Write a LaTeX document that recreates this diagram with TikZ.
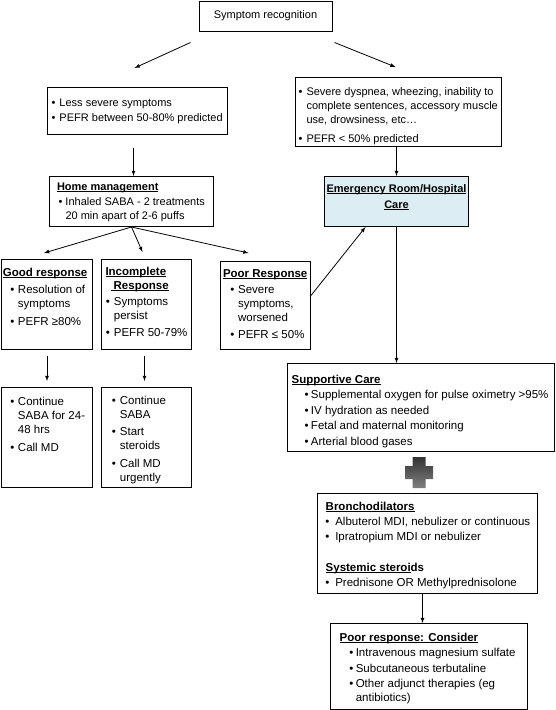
\documentclass[tikz,border=0pt]{standalone}
\usepackage{fontspec}
\setmainfont{Liberation Sans}
\usetikzlibrary{arrows}
\definecolor{erblue}{HTML}{DCEEF4}
\newlength{\tind}\newlength{\bind}\newlength{\bwid}\newlength{\bgap}
\newcommand{\fsA}{\fontsize{11}{14}\selectfont}
\newcommand{\fsB}{\fontsize{11.5}{14}\selectfont}
\newcommand{\bset}[4]{\setlength{\tind}{#1pt}\setlength{\bind}{#2pt}\setlength{\bwid}{#3pt}\setlength{\bgap}{#4pt}}
\newcommand{\ulin}[1]{\setbox0\hbox{#1}\rlap{\rule[-2pt]{\wd0}{0.8pt}}\box0}
\newcommand{\ttl}[2][0pt]{\par\noindent\strut\hspace*{\dimexpr\tind+#1\relax}\ulin{\textbf{#2}}\par}
\newcommand{\itm}[1]{\par\vspace{\bgap}\noindent\hangindent=\dimexpr\bind+\bwid\relax\hangafter=1\hspace*{\bind}\makebox[\bwid][l]{\textbullet}\strut#1\par}
\newcommand{\boxtxt}[4]{\begin{minipage}[t][#2pt][t]{#1pt}\vspace*{#3pt}#4\end{minipage}}

\begin{document}
\begin{tikzpicture}[x=1pt, y=-1pt, >=latex,
    tbox/.style={draw, line width=1pt, anchor=north west, inner sep=0pt, font=\fsA},
    lbox/.style={tbox, font=\fsB},
    hbox/.style={draw, line width=1pt, minimum width=133pt, minimum height=30pt, inner sep=0pt, font=\fsA},
    arr/.style={->, line width=0.8pt}]
    \useasboundingbox (0,0) rectangle (555,710);
    \node[hbox] (Sym) at (265.5,16) {Symptom recognition};
    \node[tbox] (Less) at (47,87) {\boxtxt{180}{47}{7.7}{\bset{0}{4}{8}{1}%
        \itm{Less severe symptoms}\itm{PEFR between 50-80\% predicted}}};
    \node[tbox] (Sev) at (295,77) {\boxtxt{206}{69}{2.7}{\bset{0}{3}{8}{5}%
        \itm{Severe dyspnea, wheezing, inability to\newline complete sentences, accessory muscle\newline use, drowsiness, etc…}%
        \itm{PEFR < 50\% predicted}}};
    \node[tbox] (Home) at (49,176) {\boxtxt{164}{50}{3.7}{\bset{7.5}{9}{7}{1}%
        \ttl{Home management}\itm{Inhaled SABA - 2 treatments\newline 20 min apart of 2-6 puffs}}};
    \node[tbox, fill=erblue] (ER) at (324,176) {\boxtxt{144}{50}{5.7}{\centering
        \strut\ulin{\textbf{Emergency Room/Hospital}}\\[2pt]\strut\ulin{\textbf{Care}}\par}};
    \node[lbox] (Good) at (1,259) {\boxtxt{91}{90}{6.7}{\bset{1.5}{9}{7.5}{3.5}%
        \ttl{Good response}\itm{Resolution of\newline symptoms}\itm{PEFR ≥80\%}}};
    \node[lbox] (Inc) at (101,259) {\boxtxt{90}{90}{5.7}{\bset{4}{4.4}{8}{2.5}%
        \ttl{Incomplete}\ttl[5pt]{\ Response}\itm{Symptoms\newline persist}\itm{PEFR 50-79\%}}};
    \node[lbox] (Poor) at (220,261) {\boxtxt{90}{88}{5.7}{\bset{2.5}{9.8}{7.8}{2.5}%
        \ttl{Poor Response}\itm{Severe\newline symptoms,\newline worsened}\itm{PEFR ≤ 50\%}}};
    \node[lbox] (ContG) at (1,387) {\boxtxt{91}{100}{3.7}{\bset{0}{9}{7.5}{4}%
        \itm{Continue\newline SABA for 24-\newline 48 hrs}\itm{Call MD}}};
    \node[lbox] (ContI) at (101,387) {\boxtxt{90}{100}{3.2}{\bset{0}{10.4}{8}{3.5}%
        \itm{Continue\newline SABA}\itm{Start\newline steroids}\itm{Call MD\newline urgently}}};
    \node[lbox] (Supp) at (287,363) {\boxtxt{267}{88}{9.7}{\bset{4.2}{17}{6.5}{1.5}%
        \ttl{Supportive Care}\itm{Supplemental oxygen for pulse oximetry >95\%}\itm{IV hydration as needed}%
        \itm{Fetal and maternal monitoring}\itm{Arterial blood gases}}};
    \node[lbox] (Bron) at (317,493) {\boxtxt{220}{100}{6.7}{\bset{8.2}{7.8}{10}{1}%
        \ttl{Bronchodilators}\itm{Albuterol MDI, nebulizer or continuous}\itm{Ipratropium MDI or nebulizer}%
        \par\vspace{17pt}\noindent\strut\hspace*{\tind}\ulin{\textbf{Systemic steroi}}\textbf{ds}\par
        \itm{Prednisone OR Methylprednisolone}}};
    \node[lbox] (Cons) at (330,623) {\boxtxt{197}{86}{7.7}{\bset{9.2}{18.8}{6.5}{1.5}%
        \ttl{Poor response: Consider}\itm{Intravenous magnesium sulfate}\itm{Subcutaneous terbutaline}%
        \itm{Other adjunct therapies (eg\newline antibiotics)}}};
    % connectors
    \draw[arr] ([shift={(-8,11)}]Sym.south west) -- ([shift={(-3,-19)}]Less.north);
    \draw[arr] ([shift={(2,11)}]Sym.south east) -- ([shift={(-3,-10)}]Sev.north);
    \draw[arr] ([shift={(-4,13)}]Less.south) -- ([xshift=2pt]Home.north);
    \draw[arr] (Sev.south -| ER.north) -- (ER.north);
    \path[arr] (Home.south) edge ([shift={(-3,-6)}]Good.north)
        edge ([shift={(-4,-7)}]Inc.north)
        edge ([shift={(-17,-8)}]Poor.north);
    \draw[arr] ([yshift=10pt]Poor.east) -- ([xshift=-31pt]ER.south);
    \draw[arr] (ER.south) -- (ER.south |- Supp.north);
    \draw[arr] ([yshift=-6pt]Good.south) -- ([yshift=6pt]ContG.north);
    \draw[arr] ([shift={(-2,6)}]Inc.south) -- ([shift={(-2,-6)}]ContI.north);
    \draw[arr] ([xshift=-5pt]Bron.south) -- ([xshift=-5pt]Bron.south |- Cons.north);
    % plus sign
    \shade[top color=black!80, bottom color=black!50] (412.5,457) -- (425.5,457) -- (425.5,466) -- (433,466)
        -- (433,479) -- (425.5,479) -- (425.5,488) -- (412.5,488) -- (412.5,479) -- (405,479)
        -- (405,466) -- (412.5,466) -- cycle;
\end{tikzpicture}
\end{document}
